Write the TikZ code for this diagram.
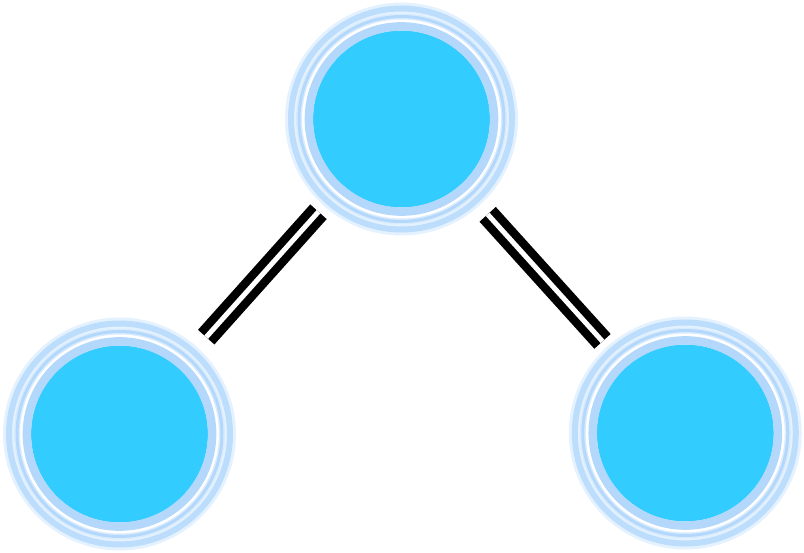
\documentclass[tikz,border=0pt]{standalone}
\usepackage{tikz}
\usepackage{xcolor}
\usetikzlibrary{math}

\definecolor{ballblue}{HTML}{33CCFF}
\definecolor{ringblue}{HTML}{B3D8FB}

\tikzset{
ball/.style={circle, fill=ballblue, inner sep=0pt, outer sep=0pt, minimum size=2*\rball},
ring/.style={draw=ringblue, line width=8.5pt},
glow/.style={draw=ringblue, line width=#1},
bond/.style={draw=black, line width=8.5pt, double=white, double distance=5pt, line cap=butt}
}

\begin{document}
\begin{tikzpicture}[x=1pt,y=-1pt]

\tikzmath{
\rball = 88.5;
}

\useasboundingbox (0,0) rectangle (804,553);

\node[ball] (top) at (401.5,119) {};
\node[ball] (left) at (119.5,434) {};
\node[ball] (right) at (685.3,433) {};

% rings round the balls
\draw[ring] (top) circle (92.6);
\draw[glow=6pt, opacity=.5] (top) circle (102.5);
\draw[glow=3pt] (top) circle (102.5);
\draw[glow=11pt, opacity=.35] (top) circle (111);
\draw[glow=6pt, opacity=.8] (top) circle (110.5);

\draw[ring] (left) circle (92.6);
\draw[glow=6pt, opacity=.5] (left) circle (102.5);
\draw[glow=3pt] (left) circle (102.5);
\draw[glow=11pt, opacity=.35] (left) circle (111);
\draw[glow=6pt, opacity=.8] (left) circle (110.5);

\draw[ring] (right) circle (92.6);
\draw[glow=6pt, opacity=.5] (right) circle (102.5);
\draw[glow=3pt] (right) circle (102.5);
\draw[glow=11pt, opacity=.35] (right) circle (111);
\draw[glow=6pt, opacity=.8] (right) circle (110.5);

% bonds
\draw[bond, shorten <=36, shorten >=41.5] (top) -- (left);
\draw[bond, shorten <=40, shorten >=35] (top) -- (right);

\end{tikzpicture}
\end{document}
